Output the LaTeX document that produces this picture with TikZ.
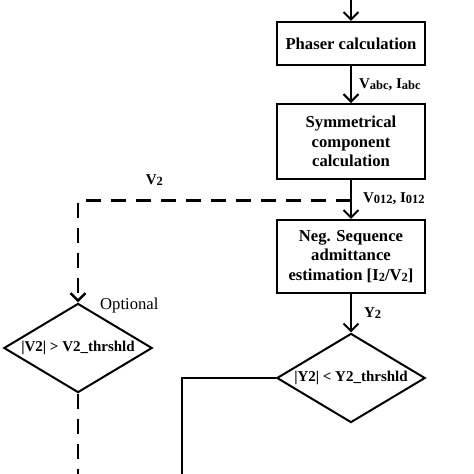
\documentclass[tikz,border=0pt]{standalone}
\usepackage{fontspec}
\setmainfont{Liberation Serif}
\usetikzlibrary{shapes.geometric,arrows.meta}
\newcommand{\sbs}[1]{\raisebox{-0.5pt}{\fontsize{7.5}{8}\selectfont #1}}
\tikzset{
  procbox/.style={draw,line width=1.2pt,minimum width=3.12cm,align=center,inner sep=2pt,font=\fontsize{10}{11.7}\selectfont\bfseries},
  decide/.style={draw,diamond,line width=1.2pt,aspect=1.67,inner sep=0pt,minimum width=3.13cm,minimum height=1.88cm,font=\fontsize{9}{10}\selectfont\bfseries},
  flow/.style={line width=1.2pt,-{Straight Barb[length=4.5pt,width=9pt]}},
  opt/.style={line width=1.5pt,dash pattern=on 9pt off 6pt},
  sig/.style={inner sep=0pt,anchor=west,font=\fontsize{9}{10}\selectfont\bfseries}
}
\begin{document}
\begin{tikzpicture}
\useasboundingbox (0,0) rectangle (10,10);
% main chain
\node[procbox,minimum height=0.91cm] (phaser) at (7.405,9.082) {Phaser calculation};
\node[procbox,minimum height=1.58cm] (symm) at (7.405,7.015) {Symmetrical\\component\\calculation};
\node[procbox,minimum height=1.54cm] (negseq) at (7.405,4.589) {Neg. Sequence\\admittance\\estimation [I\sbs{2}/V\sbs{2}]};
\node[decide] (ychk) at (7.405,2.025) {|Y2| < Y2\_thrshld};
\node[decide] (vchk) at (1.646,2.658) {|V2| > V2\_thrshld};
\node[anchor=west,inner sep=0pt,font=\fontsize{10}{12}\selectfont] (optlab) at ([xshift=0.46cm,yshift=-0.06cm]vchk.north) {Optional};
\coordinate (in) at (7.405,10);
\coordinate (tap) at (7.405,5.766);
\coordinate (bend) at (1.646,5.766);
\coordinate (ycorner) at (3.840,2.025);
\coordinate (yout) at (3.840,0);
\coordinate (vout) at (1.646,0);
\draw[flow] (in) -- (phaser.north);
\draw[flow] (phaser.south) -- (symm.north) node[sig,midway,xshift=4.2pt] {V\sbs{abc}, I\sbs{abc}};
\draw[flow] (symm.south) -- (negseq.north) node[sig,midway,xshift=6.6pt,yshift=0.5pt] {V\sbs{012}, I\sbs{012}};
\draw[flow] (negseq.south) -- (ychk.north) node[sig,midway,xshift=7.2pt] {Y\sbs{2}};
% optional voltage branch
\draw[opt,-{Straight Barb[length=4.5pt,width=9pt]}] (tap) -- (bend) node[sig,anchor=south,pos=0.72,yshift=0.3cm] {V\sbs{2}} -- (vchk.north);
\draw[opt] (vchk.south) -- (vout);
\draw[line width=1.2pt] (ychk.west) -- (ycorner) -- (yout);
\end{tikzpicture}
\end{document}
